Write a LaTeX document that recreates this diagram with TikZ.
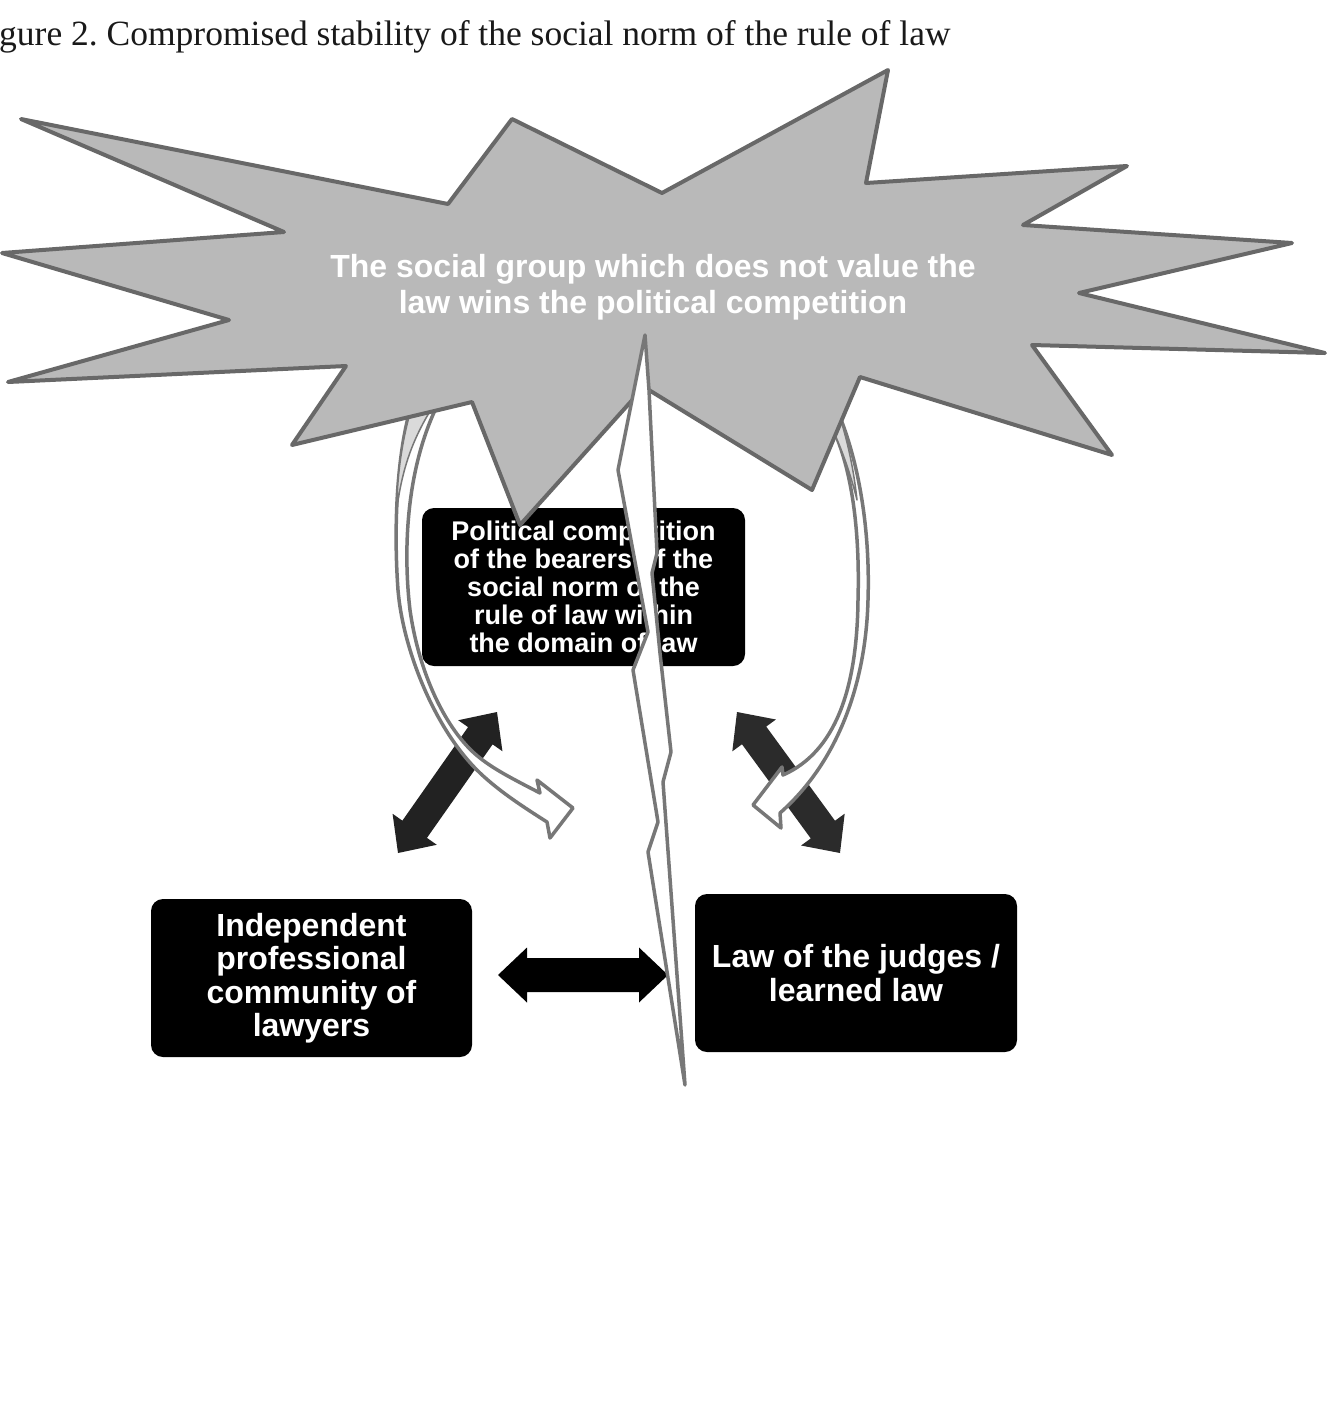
\documentclass[tikz,border=0pt]{standalone}
\usepackage{fontspec}
\setmainfont{Liberation Serif}
\setsansfont{Liberation Sans}
\usetikzlibrary{calc}
\definecolor{burstgray}{HTML}{B9B9B9}
\definecolor{edgegray}{HTML}{686868}
\definecolor{crackgray}{HTML}{777777}
\definecolor{wedgegray}{HTML}{DADADA}
\definecolor{darkarrow}{HTML}{222222}
\definecolor{darkarrowb}{HTML}{2B2B2B}
\newcommand\dblarr[6]{%
  \coordinate (#2h) at ($(#2)!#6!(#3)$);
  \coordinate (#3h) at ($(#3)!#6!(#2)$);
  \fill[#1] (#2) -- ($(#2h)!#5!90:(#3)$) -- ($(#2h)!#4!90:(#3)$)
    -- ($(#3h)!#4!-90:(#2)$) -- ($(#3h)!#5!-90:(#2)$) -- (#3)
    -- ($(#3h)!#5!90:(#2)$) -- ($(#3h)!#4!90:(#2)$)
    -- ($(#2h)!#4!-90:(#3)$) -- ($(#2h)!#5!-90:(#3)$) -- cycle;}
\tikzset{
  burst/.style={fill=burstgray, draw=edgegray, line width=4pt, line join=round},
  blackbox/.style={fill=black, rounded corners=12pt, inner sep=0pt, text=white,
    align=center, minimum height=158pt},
  boxfont/.style={font=\sffamily\bfseries\fontsize{32}{33.5}\selectfont},
  smallboxfont/.style={font=\sffamily\bfseries\fontsize{27}{28}\selectfont},
  curv/.style={fill=white, draw=crackgray, line width=3.5pt, line join=round},
  wedge/.style={fill=wedgegray, draw=crackgray, line width=1.5pt, line join=round},
  crack/.style={fill=white, draw=crackgray, line width=3.5pt, line join=round},
}
\frenchspacing
\begin{document}
\begin{tikzpicture}[x=1pt,y=-1pt]
\useasboundingbox (0,0) rectangle (1341,1414);
\fill[white] (0,0) rectangle (1341,1414);

% title
\node[anchor=base west, inner sep=0pt, font=\fontsize{35.5}{40}\selectfont, text=black!90] (title) at (-1,45)
  {gure 2. Compromised stability of the social norm of the rule of law};

% diagonal double arrows
\coordinate (dlA) at (398,853);
\coordinate (dlB) at (497,712);
\coordinate (drA) at (737,712);
\coordinate (drB) at (840,853);
\dblarr{darkarrow}{dlA}{dlB}{15pt}{27pt}{29pt}
\dblarr{darkarrowb}{drA}{drB}{15pt}{27pt}{29pt}

% left curved arrow
\filldraw[curv] (413,400) .. controls (398,445) and (393,520) .. (398,590)
  .. controls (403,650) and (435,730) .. (480,773)
  .. controls (500,792) and (525,808) .. (547,822)
  -- (550,838) -- (573,808) -- (537,780) -- (540,793)
  .. controls (515,780) and (495,770) .. (480,758)
  .. controls (450,735) and (420,680) .. (410,610)
  .. controls (404,560) and (403,470) .. (441,398) -- cycle;
\filldraw[wedge] (412,406) .. controls (402,440) and (397,475) .. (397,508)
  .. controls (402,470) and (412,440) .. (432,408) -- cycle;

% right curved arrow
\filldraw[curv] (838,412) .. controls (862,470) and (870,540) .. (868,600)
  .. controls (866,680) and (840,760) .. (780,813)
  -- (781,828) -- (753,805) -- (782,767) -- (783,775)
  .. controls (835,752) and (857,690) .. (858,600)
  .. controls (860,530) and (852,460) .. (826,415) -- cycle;
\filldraw[wedge] (832,428) .. controls (842,450) and (850,472) .. (857,500)
  .. controls (854,472) and (849,448) .. (842,424) -- cycle;

% top box
\node[blackbox, smallboxfont, minimum width=323pt] (pol) at (583.5,587)
  {Political competition\\of the bearers of the\\social norm of the\\rule of law within\\the domain of law};

% starburst
\draw[burst] (21,119) -- (448,204) -- (512,119) -- (662,193) -- (888,70) -- (866,183)
  -- (1127,166) -- (1023,225) -- (1292,243) -- (1079,293) -- (1325,353) -- (1032,345)
  -- (1112,455) -- (860,377) -- (812,490) -- (644,387) -- (520,525) -- (472,402)
  -- (292,445) -- (346,366) -- (8,382) -- (229,320) -- (2,253) -- (284,232) -- cycle;
\node[text=white, align=center, inner sep=0pt, font=\sffamily\bfseries\fontsize{32}{36}\selectfont] (burst) at (653,287)
  {The social group which does not value the\\law wins the political competition};

% bottom boxes
\node[blackbox, boxfont, minimum width=321pt] (ind) at (311.5,978)
  {Independent\\professional\\community of\\lawyers};
\node[blackbox, boxfont, minimum width=322pt] (law) at (856,973)
  {Law of the judges /\\learned law};

% horizontal double arrow
\coordinate (hA) at (498,975);
\coordinate (hB) at (668,975);
\dblarr{black}{hA}{hB}{17pt}{27.5pt}{29pt}

% crack
\filldraw[crack] (645,335) -- (649,390) -- (657,553) -- (652,573) -- (660,653) -- (671,752)
  -- (663,782) -- (685,1085) -- (648,852) -- (658,822) -- (633,670) -- (648,632)
  -- (618,470) -- (632,400) -- cycle;
\end{tikzpicture}
\end{document}
